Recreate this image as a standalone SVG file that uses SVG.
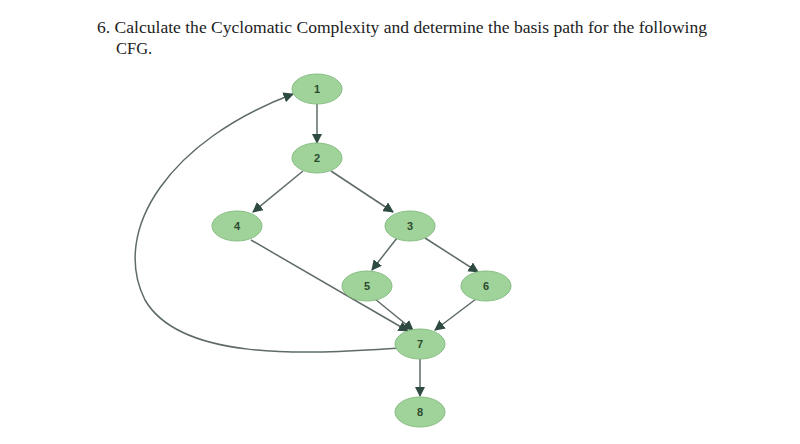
<svg xmlns="http://www.w3.org/2000/svg" width="800" height="444" viewBox="0 0 800 444">
<style>
.n{fill:#9fd39a;stroke:#86bd82;stroke-width:1}
.l{font-family:"Liberation Sans",Arial,sans-serif;font-size:11px;font-weight:bold;fill:#2d4a2d;text-anchor:middle}
.e{stroke:#5e6b66;stroke-width:1.5;fill:none;marker-end:url(#a)}
.t{font-family:"Liberation Serif","Times New Roman",serif;font-size:16.5px;fill:#222}
</style>
<defs><marker id="a" viewBox="0 0 10 10" refX="9" refY="5" markerWidth="7" markerHeight="7" orient="auto"><path d="M0,0L10,5L0,10z" fill="#2f4a40"/></marker></defs>
<rect width="800" height="444" fill="#fff"/>
<text class="t" x="97" y="33" textLength="610" lengthAdjust="spacingAndGlyphs">6.  Calculate the Cyclomatic Complexity and determine the basis path for the following</text>
<text class="t" x="116" y="54">CFG.</text>
<g id="connectors">
<path class="e" d="M317,104V143"/>
<path class="e" d="M303,171L253,212"/>
<path class="e" d="M331,171L393,212"/>
<path class="e" d="M397,238L372,270"/>
<path class="e" d="M425,238L478,272"/>
<path class="e" d="M251,240L408,331"/>
<path class="e" d="M375,299L413,330"/>
<path class="e" d="M476,299L435,330"/>
<path class="e" d="M420,359V396"/>
<path class="e" d="M400,348C300,355 180,360 145,300C110,230 170,140 293,94"/>
</g>
<g id="n1"><ellipse class="n" cx="317" cy="89" rx="25" ry="15"/><text class="l" x="317" y="93">1</text></g>
<g id="n2"><ellipse class="n" cx="317" cy="158" rx="25" ry="15"/><text class="l" x="317" y="162">2</text></g>
<g id="n4"><ellipse class="n" cx="237" cy="226" rx="25" ry="15"/><text class="l" x="237" y="230">4</text></g>
<g id="n3"><ellipse class="n" cx="410" cy="226" rx="25" ry="15"/><text class="l" x="410" y="230">3</text></g>
<g id="n5"><ellipse class="n" cx="367" cy="286" rx="25" ry="15"/><text class="l" x="367" y="290">5</text></g>
<g id="n6"><ellipse class="n" cx="486" cy="286" rx="25" ry="15"/><text class="l" x="486" y="290">6</text></g>
<g id="n7"><ellipse class="n" cx="420" cy="344" rx="25" ry="15"/><text class="l" x="420" y="348">7</text></g>
<g id="n8"><ellipse class="n" cx="420" cy="412" rx="25" ry="15"/><text class="l" x="420" y="416">8</text></g>
</svg>
